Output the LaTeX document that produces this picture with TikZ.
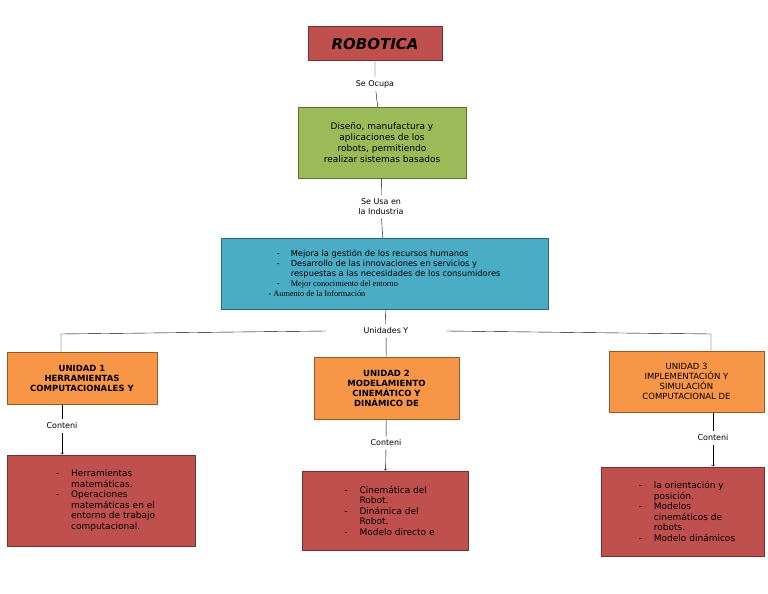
\documentclass[tikz,border=0pt]{standalone}
\usepackage{fontspec}
\setmainfont{DejaVu Sans}
\newfontfamily\serifx{Liberation Serif}
\usetikzlibrary{arrows, positioning}
\definecolor{rojo}{HTML}{C0504D}
\definecolor{verde}{HTML}{9BBB59}
\definecolor{azul}{HTML}{4BACC6}
\definecolor{naranja}{HTML}{F79646}
\begin{document}
\begin{tikzpicture}[
    x=1pt, y=-1pt,
    box/.style={rectangle, draw, line width=1pt, align=center, inner sep=2pt},
    title/.style={box, fill=rojo, draw=rojo!60!black, font=\bfseries\itshape\fontsize{15}{17}\selectfont},
    unidad/.style={box, fill=naranja, draw=naranja!60!black, font=\bfseries\fontsize{8.5}{10}\selectfont},
    lista/.style={box, fill=rojo, draw=rojo!60!black, align=left, font=\fontsize{9}{10.5}\selectfont},
    lbl/.style={fill=white, font=\fontsize{8}{10}\selectfont, align=center},
    line/.style={draw, black}
]
\useasboundingbox (0,0) rectangle (768,594);

% Place the nodes
\node [title, minimum width=134, minimum height=34] (robot) at (375,44) {ROBOTICA};
\node [box, fill=verde, draw=verde!60!black, minimum width=168, minimum height=71,
  font=\fontsize{9}{11}\selectfont] (diseno) at (382,143)
  {Diseño, manufactura y\\aplicaciones de los\\robots, permitiendo\\realizar sistemas basados};
\node [box, fill=azul, draw=azul!60!black, minimum width=327, minimum height=71, align=left,
  font=\fontsize{8.3}{10}\selectfont] (usos) at (384.5,273.5)
  {\quad- \quad Mejora la gestión de los recursos humanos\\
   \quad- \quad Desarrollo de las innovaciones en servicios y\\
   \quad\phantom{-} \quad respuestas a las necesidades de los consumidores\\
   \quad- \quad{\serifx Mejor conocimiento del entorno}\\
   {\serifx - Aumento de la Información}};
\node [lbl] (ocupa) at (375,84) {Se Ocupa};
\node [lbl] (industria) at (381,207) {Se Usa en\\la Industria};
\node [lbl, minimum width=120] (unid) at (386,331) {Unidades Y};

\node [unidad, minimum width=150, minimum height=52] (u1) at (82,378)
  {UNIDAD 1\\HERRAMIENTAS\\COMPUTACIONALES Y};
\node [unidad, minimum width=145, minimum height=62] (u2) at (386.5,388)
  {UNIDAD 2\\MODELAMIENTO\\CINEMÁTICO Y\\DINÁMICO DE};
\node [unidad, font=\fontsize{8.5}{10}\selectfont, minimum width=155, minimum height=61] (u3) at (686.5,381.5)
  {UNIDAD 3\\IMPLEMENTACIÓN Y\\SIMULACIÓN\\COMPUTACIONAL DE};

\node [lbl] (c1) at (62,426) {Conteni};
\node [lbl] (c2) at (386,443) {Conteni};
\node [lbl] (c3) at (713,438) {Conteni};

\node [lista, minimum width=188, minimum height=91] (l1) at (101,500.5)
  {\quad- \quad Herramientas\\ \quad\phantom{-} \quad matemáticas.\\
   \quad- \quad Operaciones\\ \quad\phantom{-} \quad matemáticas en el\\
   \quad\phantom{-} \quad entorno de trabajo\\ \quad\phantom{-} \quad computacional.};
\node [lista, minimum width=166, minimum height=79] (l2) at (385,510.5)
  {\quad- \quad Cinemática del\\ \quad\phantom{-} \quad Robot.\\
   \quad- \quad Dinámica del\\ \quad\phantom{-} \quad Robot.\\
   \quad- \quad Modelo directo e};
\node [lista, minimum width=163, minimum height=89] (l3) at (682.5,511.5)
  {\quad- \quad la orientación y\\ \quad\phantom{-} \quad posición.\\
   \quad- \quad Modelos\\ \quad\phantom{-} \quad cinemáticos de\\
   \quad\phantom{-} \quad robots.\\ \quad- \quad Modelo dinámicos};

% Draw the lines
\path [line] (robot) -- (ocupa) -- (diseno);
\path [line] (diseno) -- (industria) -- (usos);
\path [line] (usos) -- (unid) -- (u2);
\coordinate (izq) at (61,334);
\coordinate (der) at (711,334);
\path [line] (unid.west) -- (izq) -- (u1.north -| izq);
\path [line] (unid.east) -- (der) -- (u3.north -| der);
\path [line] (u1.south -| c1) -- (c1);
\path [line] (u2) -- (c2);
\path [line] (u3.south -| c3) -- (c3);
\path [line, -to] (c1) -- (l1.north -| c1);
\path [line, -to] (c2) -- (l2);
\path [line, -to] (c3) -- (l3.north -| c3);

\end{tikzpicture}
\end{document}
